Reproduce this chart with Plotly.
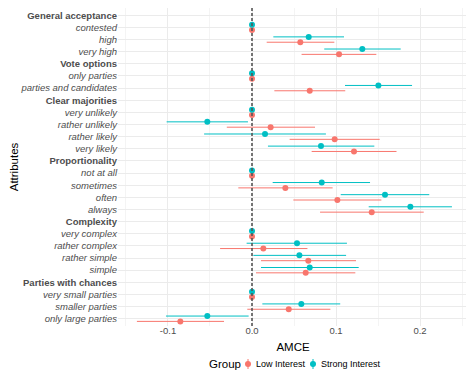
import plotly.graph_objects as go

# Attribute groups (headers) and their levels, top to bottom
groups = ["General acceptance", "Vote options", "Clear majorities",
          "Proportionality", "Complexity", "Parties with chances"]
group_levels = [
    ["contested", "high", "very high"],
    ["only parties", "parties and candidates"],
    ["very unlikely", "rather unlikely", "rather likely", "very likely"],
    ["not at all", "sometimes", "often", "always"],
    ["very complex", "rather complex", "rather simple", "simple"],
    ["very small parties", "smaller parties", "only large parties"],
]

# AMCE estimates and 95% CI bounds, in level order (reference levels = 0)
low_est = [0, 0.0575, 0.1036, 0, 0.0687, 0, 0.0222, 0.0984, 0.1214,
           0, 0.0397, 0.1016, 0.1425, 0, 0.0135, 0.067, 0.0639, 0, 0.0437, -0.0853]
low_lo = [0, 0.0175, 0.059, 0, 0.0266, 0, -0.030, 0.0448, 0.071,
          0, -0.0163, 0.0492, 0.081, 0, -0.038, 0.0107, 0.0048, 0, -0.0056, -0.137]
low_hi = [0, 0.098, 0.148, 0, 0.111, 0, 0.075, 0.152, 0.172,
          0, 0.096, 0.154, 0.2044, 0, 0.066, 0.1238, 0.123, 0, 0.0933, -0.0333]

strong_est = [0, 0.0675, 0.1313, 0, 0.1504, 0, -0.0532, 0.0155, 0.0821,
              0, 0.083, 0.1583, 0.1885, 0, 0.0536, 0.0564, 0.0687, 0, 0.0587, -0.0532]
strong_lo = [0, 0.0254, 0.086, 0, 0.1107, 0, -0.1016, -0.057, 0.019,
             0, 0.0246, 0.1056, 0.1389, 0, -0.0064, 0.0016, 0.0107, 0, 0.0123, -0.1024]
strong_hi = [0, 0.1095, 0.177, 0, 0.1905, 0, -0.0048, 0.088, 0.1456,
             0, 0.1405, 0.211, 0.238, 0, 0.113, 0.112, 0.127, 0, 0.105, -0.004]

series_names = ["Low Interest", "Strong Interest"]
x_ticks = [-0.1, 0.0, 0.1, 0.2]
x_tick_labels = ["-0.1", "0.0", "0.1", "0.2"]

# build row list
rows = []  # (label, is_header)
for g, lv in zip(groups, group_levels):
    rows.append((g, True))
    for l in lv:
        rows.append((l, False))
n = len(rows)
tickvals, ticktext, level_pos = [], [], []
for i, (lab, hdr) in enumerate(rows):
    p = n - 1 - i
    tickvals.append(p)
    ticktext.append(f"<b>{lab}</b>" if hdr else f"<i>{lab}</i>")
    if not hdr:
        level_pos.append(p)

dodge = 0.22
RED = "#F8766D"
TEAL = "#00BFC4"

def err(est, lo, hi):
    plus = [h - e for e, h in zip(est, hi)]
    minus = [e - l for e, l in zip(est, lo)]
    return plus, minus

fig = go.Figure()
lp, lm = err(low_est, low_lo, low_hi)
sp, sm = err(strong_est, strong_lo, strong_hi)
fig.add_trace(go.Scatter(
    x=low_est, y=[p - dodge for p in level_pos], mode="markers", name=series_names[0],
    marker=dict(color=RED, size=6), showlegend=False,
    error_x=dict(type="data", array=lp, arrayminus=lm, width=0, thickness=1, color=RED)))
fig.add_trace(go.Scatter(
    x=strong_est, y=[p + dodge for p in level_pos], mode="markers", name=series_names[1],
    marker=dict(color=TEAL, size=6), showlegend=False,
    error_x=dict(type="data", array=sp, arrayminus=sm, width=0, thickness=1, color=TEAL)))

fig.add_shape(type="line", x0=0, x1=0, xref="x", y0=0, y1=1, yref="paper",
              line=dict(color="#555555", width=1.6, dash="3px,2px"), layer="above")

# page body has an 8px margin, so figure coords = screen coords - 8
OFF = 8
FW, FH = 474 - OFF, 379 - OFF
L, W, T, H = 118 - OFF, 350, 0, 318

def px_x(px):  # screen px -> paper
    return (px - OFF - L) / W
def px_y(py):
    return (T + H - (py - OFF)) / H

# manual legend (pointrange keys) below the plot
leg_y = 364
fig.add_annotation(text="Group", x=px_x(207), y=px_y(leg_y), xref="paper", yref="paper",
                   xanchor="left", yanchor="middle", showarrow=False,
                   font=dict(size=11.5, color="black"))
for name, col, mx in zip(series_names, [RED, TEAL], [248, 313]):
    fig.add_shape(type="line", xref="paper", yref="paper", xsizemode="pixel", ysizemode="pixel",
                  xanchor=px_x(mx), yanchor=px_y(leg_y), x0=0, x1=0, y0=-5, y1=5,
                  line=dict(color=col, width=1))
    fig.add_shape(type="circle", xref="paper", yref="paper", xsizemode="pixel", ysizemode="pixel",
                  xanchor=px_x(mx), yanchor=px_y(leg_y), x0=-3, x1=3, y0=-3, y1=3,
                  fillcolor=col, line=dict(width=0))
    fig.add_annotation(text=name, x=px_x(mx + 6), y=px_y(leg_y), xref="paper", yref="paper",
                       xanchor="left", yanchor="middle", showarrow=False,
                       font=dict(size=9, color="black"))

font = "Liberation Sans, Arial, Helvetica, sans-serif"
fig.update_layout(
    width=FW, height=FH,
    margin=dict(l=L, r=FW - L - W, t=T, b=FH - T - H),
    paper_bgcolor="white", plot_bgcolor="white",
    font=dict(family=font, size=9, color="black"),
    showlegend=False,
    xaxis=dict(range=[-0.1595, 0.2571], tickvals=x_ticks, ticktext=x_tick_labels,
               showgrid=True, gridcolor="#EBEBEB", gridwidth=1,
               minor=dict(dtick=0.05, tick0=-0.15, showgrid=True, gridcolor="#F4F4F4", gridwidth=0.6),
               zeroline=False, showline=False, ticks="", automargin=False,
               ticklabelstandoff=-3,
               tickfont=dict(size=9.5, color="#4D4D4D"),
               title=dict(text="AMCE", font=dict(size=11.5, color="black"), standoff=8)),
    yaxis=dict(range=[-0.6, n - 1 + 0.6], tickvals=tickvals, ticktext=ticktext,
               showgrid=True, gridcolor="#EBEBEB", gridwidth=1,
               zeroline=False, showline=False, ticks="", automargin=False,
               tickfont=dict(size=9.5, color="#4D4D4D"),
               title=dict(text="Attributes", font=dict(size=11.5, color="black"), standoff=2)),
)

fig.write_html("out.html")
